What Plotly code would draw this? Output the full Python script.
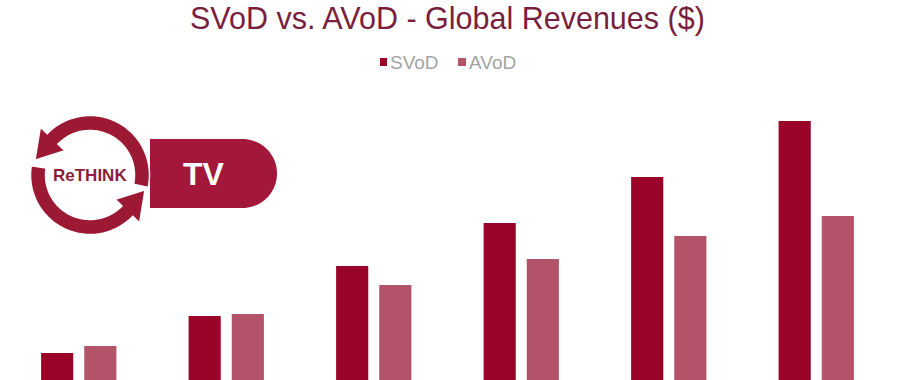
import math
import plotly.graph_objects as go

# ---------------- data ----------------
years = ["2018", "2019", "2020", "2021", "2022", "2023"]
series_names = ["SVoD", "AVoD"]
svod = [18.8, 33.6, 53.6, 70.8, 89.2, 111.6]
avod = [21.6, 34.4, 46.0, 56.4, 65.6, 73.6]
title_text = "SVoD vs. AVoD - Global Revenues ($)"
logo_left = "ReTHINK"
logo_right = "TV"

# ---------------- styles ----------------
W, H = 897, 380
C_SVOD = "#9a0428"
C_AVOD = "#b25369"
C_TITLE = "#7a1e3e"
C_RING = "#9c1934"
C_PILL = "#a3173b"
FONT = "Liberation Sans, Arial, sans-serif"

fig = go.Figure()
fig.add_trace(go.Bar(name=series_names[0], x=years, y=svod, marker_color=C_SVOD,
                     marker_line_width=0, showlegend=False))
fig.add_trace(go.Bar(name=series_names[1], x=years, y=avod, marker_color=C_AVOD,
                     marker_line_width=0, showlegend=False))


def P(x, y):
    return f"{x:.2f},{y:.2f}"


def polar(cx, cy, r, deg):
    a = math.radians(deg)
    return cx + r * math.cos(a), cy - r * math.sin(a)


def arrow_arc(cx, cy, r_in, r_out, a_start, a_barb, a_tip, r_barb_in, r_barb_out, r_tip):
    n = 40
    pts = []
    for i in range(n + 1):
        a = a_start + (a_barb - a_start) * i / n
        pts.append(polar(cx, cy, r_out, a))
    pts.append(polar(cx, cy, r_barb_out, a_barb))
    pts.append(polar(cx, cy, r_tip, a_tip))
    pts.append(polar(cx, cy, r_barb_in, a_barb))
    for i in range(n + 1):
        a = a_barb + (a_start - a_barb) * i / n
        pts.append(polar(cx, cy, r_in, a))
    return "M" + " L".join(P(*p) for p in pts) + " Z"


def pill(x0, y0, x1, y1):
    r = (y1 - y0) / 2
    cx = x1 - r
    cy = (y0 + y1) / 2
    pts = [(x0, y0), (cx, y0)]
    for i in range(1, 40):
        a = 90 - 180 * i / 40
        pts.append(polar(cx, cy, r, a))
    pts += [(cx, y1), (x0, y1)]
    return "M" + " L".join(P(*p) for p in pts) + " Z"


cx, cy = 90, 175
shapes = [
    dict(type="path", xref="x2", yref="y2", path=pill(150, 139, 277, 208),
         fillcolor=C_PILL, line=dict(width=0), layer="above"),
    dict(type="path", xref="x2", yref="y2",
         path=arrow_arc(cx, cy, 44.5, 59.5, -12, 136, 165, 35, 69, 57),
         fillcolor=C_RING, line=dict(color="white", width=1.5), layer="above"),
    dict(type="path", xref="x2", yref="y2",
         path=arrow_arc(cx, cy, 44.5, 59.5, 171, 316, 345, 35, 69, 57),
         fillcolor=C_RING, line=dict(color="white", width=1.5), layer="above"),
    # legend swatches
    dict(type="rect", xref="x2", yref="y2", x0=380, x1=387, y0=58, y1=66,
         fillcolor=C_SVOD, line=dict(width=0)),
    dict(type="rect", xref="x2", yref="y2", x0=458, x1=466, y0=58, y1=66,
         fillcolor=C_AVOD, line=dict(width=0)),
]

annotations = [
    dict(xref="x2", yref="y2", x=447.5, y=0, text=title_text, showarrow=False,
         xanchor="center", yanchor="top", borderpad=0,
         font=dict(family=FONT, size=30.5, color=C_TITLE)),
    dict(xref="x2", yref="y2", x=388, y=62.5, text=series_names[0], showarrow=False,
         xanchor="left", yanchor="middle", font=dict(family=FONT, size=19, color="#a3a3a3")),
    dict(xref="x2", yref="y2", x=467, y=62.5, text=series_names[1], showarrow=False,
         xanchor="left", yanchor="middle", font=dict(family=FONT, size=19, color="#a3a3a3")),
    dict(xref="x2", yref="y2", x=90, y=175, text=f"<b>{logo_left}</b>", showarrow=False,
         xanchor="center", yanchor="middle", font=dict(family=FONT, size=17, color="#8a1e3a")),
    dict(xref="x2", yref="y2", x=203.5, y=174, text=f"<b>{logo_right}</b>", showarrow=False,
         xanchor="center", yanchor="middle", font=dict(family=FONT, size=32, color="white")),
]

fig.update_layout(
    width=W, height=H,
    margin=dict(l=0, r=0, t=0, b=0),
    paper_bgcolor="white", plot_bgcolor="rgba(0,0,0,0)",
    barmode="group", bargap=0.415, bargroupgap=0.255,
    xaxis=dict(domain=[5 / W, 890 / W], anchor="y", visible=False, type="category"),
    yaxis=dict(domain=[0, (H - 95) / H], anchor="x", range=[8, 122], visible=False),
    xaxis2=dict(domain=[0, 1], anchor="y2", range=[0, W], visible=False, fixedrange=True),
    yaxis2=dict(domain=[0, 1], anchor="x2", range=[H, 0], visible=False, fixedrange=True),
    shapes=shapes, annotations=annotations,
    showlegend=False,
)

fig.write_html("out.html", config={"displayModeBar": False})
